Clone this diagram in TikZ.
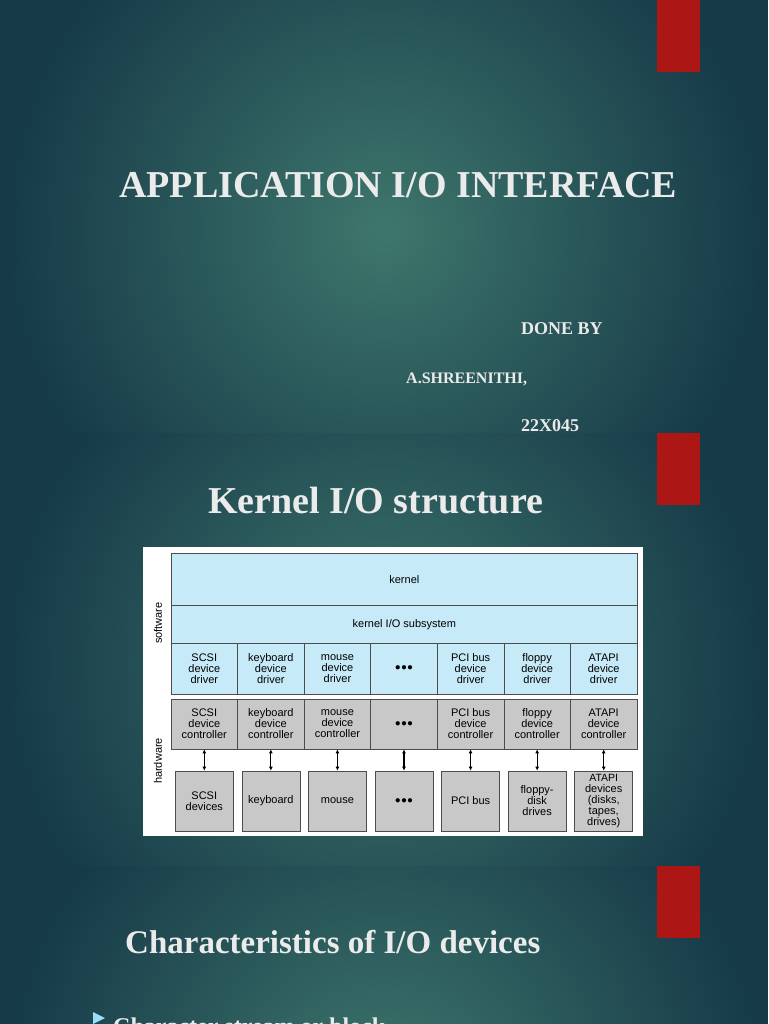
\documentclass[tikz,border=0pt]{standalone}
\usepackage{fontspec}
\setmainfont{Liberation Serif}
\newfontfamily\arialf{Liberation Sans}
\usetikzlibrary{arrows.meta}
\definecolor{bgout}{RGB}{22,58,72}
\definecolor{bgin}{RGB}{62,118,108}
\definecolor{redbar}{RGB}{172,22,20}
\definecolor{lblue}{RGB}{198,234,248}
\definecolor{lgray}{RGB}{200,200,200}
\definecolor{titlec}{RGB}{235,235,235}
\tikzset{
  title/.style={text=titlec,font=\bfseries,anchor=west,inner sep=0},
  swbox/.style={draw=black!70,line width=0.7pt,fill=lblue,font=\arialf\fontsize{11}{11}\selectfont,align=center,inner sep=0},
  hwbox/.style={draw=black!70,line width=0.7pt,fill=lgray,font=\arialf\fontsize{11}{11}\selectfont,align=center,inner sep=0},
  bar/.style={fill=redbar,draw=none},
  link/.style={{Latex[length=4pt,width=4pt]}-{Latex[length=4pt,width=4pt]},line width=1.2pt}
}
\begin{document}
\begin{tikzpicture}[x=1pt,y=-1pt]
\useasboundingbox (0,0) rectangle (768,1024);
% backgrounds
\foreach \ya/\yb in {0/433,433/866,866/1024}{
  \begin{scope}
  \clip (0,\ya) rectangle (768,\yb);
  \fill[bgout] (0,\ya) rectangle (768,\yb);
  \shade[inner color=bgin,outer color=bgout,draw=none] (384,\ya+230) circle (380);
  \end{scope}
}
% red bars
\fill[bar] (657,0) rectangle (700,72);
\fill[bar] (657,433) rectangle (700,505);
\fill[bar] (657,866) rectangle (700,938);
% slide 1
\node[title,font=\bfseries\fontsize{38}{40}\selectfont] (t1) at (119,185) {APPLICATION I/O INTERFACE};
\node[title,font=\bfseries\fontsize{18}{20}\selectfont] (d1) at (521,329) {DONE BY};
\node[title,font=\bfseries\fontsize{16}{18}\selectfont] (d2) at (406,379) {A.SHREENITHI,};
\node[title,font=\bfseries\fontsize{18}{20}\selectfont] (d3) at (521,426) {22X045};
% slide 2
\node[title,font=\bfseries\fontsize{38}{40}\selectfont] (t2) at (208,501) {Kernel I/O structure};
\fill[white] (143,547) rectangle (643,836);
\node[swbox,minimum width=466,minimum height=52,anchor=north west] (kern) at (171,553) {kernel};
\node[swbox,minimum width=466,minimum height=38,anchor=north west] (kio) at (171,605) {kernel I/O subsystem};
\node[rotate=90,font=\arialf\fontsize{11}{11}\selectfont] (sw) at (158,623) {software};
\node[rotate=90,font=\arialf\fontsize{11}{11}\selectfont] (hw) at (158,761) {hardware};
\foreach \i/\a/\b/\c in {
 0/{SCSI\\device\\driver}/{SCSI\\device\\controller}/{SCSI\\devices},
 1/{keyboard\\device\\driver}/{keyboard\\device\\controller}/{keyboard},
 2/{mouse\\device\\driver}/{mouse\\device\\controller}/{mouse},
 3/{\textbf{$\bullet\!\bullet\!\bullet$}}/{\textbf{$\bullet\!\bullet\!\bullet$}}/{\textbf{$\bullet\!\bullet\!\bullet$}},
 4/{PCI bus\\device\\driver}/{PCI bus\\device\\controller}/{PCI bus},
 5/{floppy\\device\\driver}/{floppy\\device\\controller}/{floppy-\\disk\\drives},
 6/{ATAPI\\device\\driver}/{ATAPI\\device\\controller}/{\fontsize{10.5}{10.5}\selectfont ATAPI\\devices\\(disks,\\tapes,\\drives)}}{
  \pgfmathsetmacro\cx{171+66.57*\i+33.29}
  \node[swbox,minimum width=66.57,minimum height=51] (drv\i) at (\cx,668.5) {\a};
  \node[hwbox,minimum width=66.57,minimum height=50] (ctl\i) at (\cx,724) {\b};
  \node[hwbox,minimum width=58,minimum height=60] (dev\i) at (\cx,801) {\c};
  \draw[link] (ctl\i.south) -- (dev\i.north);
}
% slide 3
\node[title,font=\bfseries\fontsize{33}{35}\selectfont] (t3) at (125,942) {Characteristics of I/O devices};
\fill[cyan!40!white] (93,1012) -- (105,1018) -- (93,1024) -- cycle;
\node[title,font=\bfseries\fontsize{24}{26}\selectfont] (b1) at (113,1026) {Character stream or block};
\end{tikzpicture}
\end{document}
